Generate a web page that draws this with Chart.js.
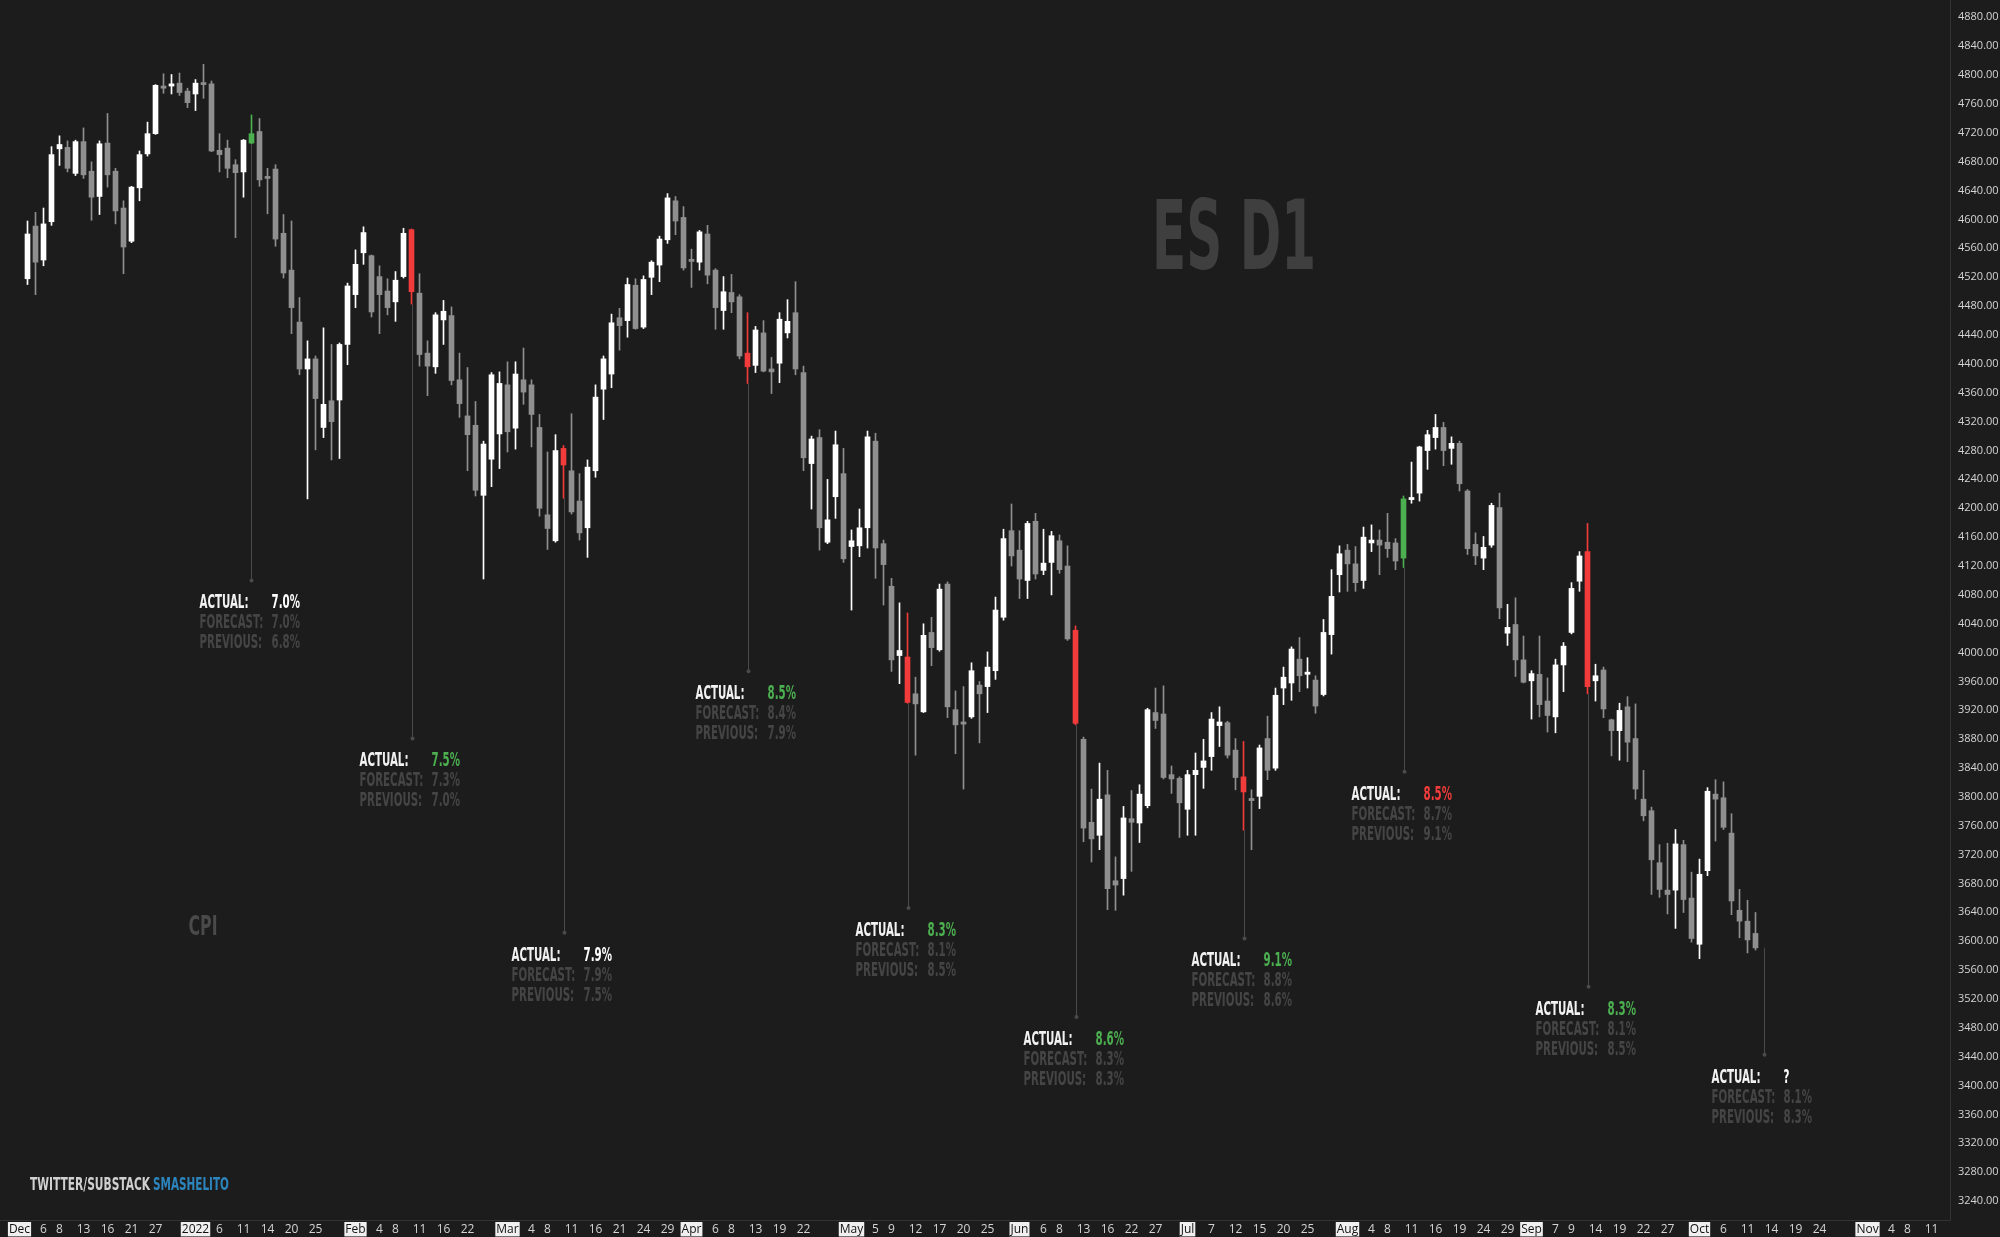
<!DOCTYPE html>
<html>
<head>
<meta charset="utf-8">
<title>ES D1 - CPI</title>
<script src="https://cdn.jsdelivr.net/npm/chart.js@4.4.1/dist/chart.umd.min.js"></script>
<style>
  html, body { margin: 0; padding: 0; background: #1c1c1c; }
  #wrap { width: 2000px; height: 1237px; }
</style>
</head>
<body>
<div id="wrap"><canvas id="esChart" width="2000" height="1237"></canvas></div>
<script>
'use strict';

// daily ES candles, first bar on this date, one entry per trading day
const firstDate = '2021-12-02';

const open = [
  4515, 4588, 4541, 4594, 4695, 4697, 4661, 4705, 4664, 4629, 4703, 4664, 4613, 4567, 4641, 4688, 4716, 4782, 4782, 4786,
  4775, 4771, 4786, 4785, 4693, 4696, 4673, 4663, 4703, 4719, 4656, 4667, 4578, 4527, 4455, 4390, 4404, 4309, 4346, 4347,
  4424, 4493, 4551, 4547, 4518, 4498, 4483, 4518, 4583, 4495, 4412, 4393, 4458, 4464, 4375, 4325, 4312, 4215, 4265, 4300,
  4368, 4308, 4375, 4368, 4309, 4188, 4152, 4280, 4249, 4207, 4170, 4249, 4362, 4383, 4461, 4457, 4506, 4448, 4517, 4534,
  4569, 4623, 4600, 4542, 4538, 4577, 4527, 4471, 4496, 4490, 4412, 4395, 4440, 4390, 4398, 4440, 4468, 4385, 4259, 4295,
  4150, 4213, 4245, 4144, 4145, 4170, 4290, 4148, 4089, 3993, 3991, 3940, 3915, 4025, 4001, 4092, 3918, 3901, 3908, 3952,
  3950, 3972, 4046, 4166, 4139, 4097, 4179, 4111, 4122, 4152, 4117, 4028, 3877, 3762, 3744, 3800, 3681, 3684, 3767, 3761,
  3785, 3914, 3912, 3828, 3823, 3780, 3828, 3838, 3853, 3896, 3900, 3862, 3825, 3795, 3798, 3878, 3837, 3948, 3955, 3988,
  3967, 3959, 3939, 4022, 4105, 4139, 4120, 4097, 4149, 4153, 4150, 4149, 4128, 4209, 4218, 4277, 4295, 4309, 4280, 4287,
  4221, 4147, 4128, 4146, 4198, 4024, 4036, 3987, 3958, 3967, 3930, 3908, 3980, 4025, 4096, 4137, 3958, 3973, 3904, 3889,
  3922, 3878, 3794, 3778, 3706, 3668, 3668, 3731, 3657, 3593, 3695, 3801, 3796, 3747, 3640, 3625, 3608
];
const high = [
  4595, 4607, 4613, 4698, 4713, 4706, 4707, 4724, 4677, 4706, 4744, 4668, 4623, 4643, 4692, 4732, 4784, 4799, 4798, 4800,
  4779, 4791, 4812, 4789, 4716, 4707, 4680, 4708, 4742, 4737, 4668, 4673, 4604, 4595, 4489, 4429, 4408, 4447, 4424, 4426,
  4509, 4555, 4587, 4548, 4533, 4515, 4525, 4585, 4584, 4522, 4429, 4468, 4485, 4476, 4412, 4392, 4345, 4290, 4385, 4386,
  4400, 4400, 4419, 4375, 4327, 4275, 4299, 4284, 4328, 4245, 4264, 4368, 4408, 4466, 4474, 4516, 4515, 4519, 4540, 4574,
  4633, 4629, 4615, 4556, 4582, 4589, 4529, 4518, 4521, 4493, 4468, 4449, 4457, 4406, 4468, 4486, 4511, 4394, 4297, 4306,
  4237, 4304, 4280, 4167, 4196, 4304, 4301, 4153, 4100, 4066, 4052, 3963, 4037, 4046, 4092, 4095, 3944, 3950, 3983, 3957,
  3998, 4074, 4168, 4203, 4166, 4179, 4190, 4168, 4165, 4160, 4145, 4034, 3880, 3808, 3844, 3834, 3714, 3784, 3806, 3814,
  3920, 3948, 3951, 3840, 3825, 3834, 3858, 3877, 3914, 3922, 3902, 3878, 3874, 3807, 3869, 3909, 3948, 3977, 4005, 4018,
  3990, 3965, 4043, 4112, 4145, 4147, 4144, 4171, 4174, 4167, 4190, 4155, 4214, 4261, 4283, 4305, 4327, 4316, 4296, 4290,
  4223, 4163, 4158, 4204, 4218, 4064, 4073, 4020, 3972, 4020, 3962, 3988, 4011, 4094, 4137, 4176, 3981, 3977, 3905, 3927,
  3936, 3926, 3834, 3783, 3731, 3733, 3752, 3737, 3693, 3711, 3810, 3821, 3818, 3774, 3669, 3654, 3637
];
const low = [
  4507, 4493, 4533, 4589, 4672, 4663, 4658, 4654, 4596, 4604, 4642, 4591, 4522, 4565, 4623, 4685, 4715, 4772, 4771, 4769,
  4752, 4748, 4765, 4691, 4663, 4655, 4572, 4628, 4702, 4643, 4605, 4560, 4516, 4439, 4382, 4210, 4278, 4295, 4264, 4266,
  4396, 4475, 4535, 4462, 4439, 4465, 4456, 4516, 4480, 4394, 4353, 4384, 4424, 4368, 4323, 4249, 4214, 4099, 4227, 4252,
  4275, 4279, 4341, 4282, 4186, 4140, 4150, 4211, 4189, 4153, 4129, 4240, 4320, 4364, 4416, 4434, 4445, 4446, 4493, 4511,
  4564, 4576, 4527, 4503, 4527, 4508, 4445, 4445, 4468, 4404, 4370, 4385, 4386, 4356, 4371, 4433, 4382, 4249, 4196, 4139,
  4148, 4183, 4122, 4056, 4130, 4142, 4100, 4063, 3971, 3954, 3927, 3855, 3914, 3979, 3999, 3907, 3857, 3808, 3906, 3872,
  3914, 3960, 4042, 4117, 4072, 4072, 4099, 4105, 4077, 4107, 4014, 3897, 3735, 3707, 3724, 3641, 3640, 3661, 3694, 3734,
  3782, 3892, 3822, 3802, 3741, 3744, 3744, 3809, 3834, 3867, 3851, 3807, 3751, 3724, 3781, 3821, 3834, 3925, 3931, 3943,
  3948, 3913, 3937, 3995, 4081, 4082, 4082, 4086, 4137, 4105, 4129, 4112, 4115, 4204, 4207, 4251, 4279, 4256, 4258, 4221,
  4133, 4119, 4112, 4143, 4044, 4007, 3964, 3955, 3905, 3908, 3887, 3886, 3943, 4023, 4082, 3940, 3930, 3907, 3854, 3848,
  3846, 3794, 3764, 3662, 3658, 3635, 3615, 3637, 3596, 3573, 3688, 3736, 3752, 3634, 3602, 3581, 3585
];
const close = [
  4577, 4538, 4591, 4687, 4701, 4668, 4705, 4659, 4628, 4702, 4659, 4609, 4559, 4642, 4687, 4716, 4783, 4779, 4785, 4773,
  4759, 4786, 4784, 4692, 4687, 4668, 4662, 4707, 4716, 4652, 4654, 4570, 4523, 4475, 4390, 4404, 4349, 4341, 4317, 4424,
  4505, 4535, 4579, 4469, 4493, 4475, 4513, 4578, 4497, 4410, 4394, 4465, 4470, 4374, 4342, 4299, 4222, 4286, 4382, 4370,
  4303, 4383, 4358, 4327, 4197, 4169, 4277, 4257, 4192, 4163, 4254, 4351, 4404, 4454, 4450, 4507, 4446, 4514, 4538, 4570,
  4627, 4595, 4530, 4539, 4580, 4520, 4475, 4497, 4483, 4408, 4393, 4444, 4387, 4386, 4459, 4456, 4390, 4267, 4293, 4170,
  4181, 4285, 4127, 4152, 4170, 4296, 4142, 4119, 3987, 4000, 3928, 3926, 4021, 4004, 4085, 3922, 3897, 3898, 3972, 3940,
  3977, 4056, 4155, 4131, 4099, 4176, 4106, 4121, 4159, 4112, 4016, 3899, 3754, 3739, 3794, 3670, 3675, 3768, 3762, 3801,
  3918, 3903, 3824, 3822, 3789, 3828, 3834, 3847, 3905, 3901, 3855, 3824, 3804, 3792, 3865, 3834, 3938, 3963, 4002, 3965,
  3970, 3923, 4025, 4075, 4134, 4120, 4094, 4157, 4153, 4146, 4141, 4124, 4210, 4212, 4282, 4299, 4309, 4277, 4287, 4231,
  4141, 4131, 4143, 4201, 4059, 4032, 3987, 3956, 3968, 3925, 3910, 3980, 4006, 4086, 4131, 3950, 3965, 3919, 3889, 3917,
  3873, 3808, 3771, 3710, 3669, 3662, 3732, 3655, 3601, 3690, 3805, 3794, 3755, 3653, 3625, 3599, 3588
];

// exchange holidays, no bar on these days
const holidays = [
  '2021-12-24', '2022-01-17', '2022-02-21', '2022-04-15', '2022-05-30',
  '2022-06-20', '2022-07-04', '2022-09-05', '2022-11-24'
];

const xTickDates = [
  '2021-12-01', '2021-12-06', '2021-12-08', '2021-12-13', '2021-12-16', '2021-12-21', '2021-12-27',
  '2022-01-03', '2022-01-06', '2022-01-11', '2022-01-14', '2022-01-20', '2022-01-25',
  '2022-02-01', '2022-02-04', '2022-02-08', '2022-02-11', '2022-02-16', '2022-02-22',
  '2022-03-01', '2022-03-04', '2022-03-08', '2022-03-11', '2022-03-16', '2022-03-21', '2022-03-24', '2022-03-29',
  '2022-04-01', '2022-04-06', '2022-04-08', '2022-04-13', '2022-04-19', '2022-04-22',
  '2022-05-02', '2022-05-05', '2022-05-09', '2022-05-12', '2022-05-17', '2022-05-20', '2022-05-25',
  '2022-06-01', '2022-06-06', '2022-06-08', '2022-06-13', '2022-06-16', '2022-06-22', '2022-06-27',
  '2022-07-01', '2022-07-07', '2022-07-12', '2022-07-15', '2022-07-20', '2022-07-25',
  '2022-08-01', '2022-08-04', '2022-08-08', '2022-08-11', '2022-08-16', '2022-08-19', '2022-08-24', '2022-08-29',
  '2022-09-01', '2022-09-07', '2022-09-09', '2022-09-14', '2022-09-19', '2022-09-22', '2022-09-27',
  '2022-10-03', '2022-10-06', '2022-10-11', '2022-10-14', '2022-10-19', '2022-10-24',
  '2022-11-01', '2022-11-04', '2022-11-08', '2022-11-11'
];
const monthTickLabels = {
  '2021-12-01': 'Dec', '2022-01-03': '2022', '2022-02-01': 'Feb', '2022-03-01': 'Mar',
  '2022-04-01': 'Apr', '2022-05-02': 'May', '2022-06-01': 'Jun', '2022-07-01': 'Jul',
  '2022-08-01': 'Aug', '2022-09-01': 'Sep', '2022-10-03': 'Oct', '2022-11-01': 'Nov'
};

const yTicks = [];
for (let v = 3240; v <= 4880; v += 40) yTicks.push(v);

// CPI releases
const cpiDates = [
  '2022-01-12', '2022-02-10', '2022-03-10', '2022-04-12', '2022-05-11',
  '2022-06-10', '2022-07-13', '2022-08-10', '2022-09-13', '2022-10-13'
];
const cpiActual = ['7.0%', '7.5%', '7.9%', '8.5%', '8.3%', '8.6%', '9.1%', '8.5%', '8.3%', '?'];
const cpiForecast = ['7.0%', '7.3%', '7.9%', '8.4%', '8.1%', '8.3%', '8.8%', '8.7%', '8.1%', '8.1%'];
const cpiPrevious = ['6.8%', '7.0%', '7.5%', '7.9%', '8.5%', '8.3%', '8.6%', '9.1%', '8.5%', '8.3%'];
// price level the label block sits at
const cpiLabelLevel = [4068, 3849, 3580, 3942, 3614, 3463, 3572, 3803, 3505, 3411];

const BG = '#1c1c1c';
const UP = '#ffffff';
const DOWN = '#8f8f8f';
const GREEN = '#4caf50';
const RED = '#f23b3b';
const AXIS_LINE = '#333333';
const AXIS_TEXT = '#d4d4d4';
const DIM_TEXT = '#454545';
const CONDENSED = "'Liberation Sans Narrow', 'DejaVu Sans Condensed', 'Roboto', sans-serif";

function buildCalendar(start, end) {
  const days = [];
  const d = new Date(start + 'T00:00:00Z');
  const stop = new Date(end + 'T00:00:00Z');
  while (d <= stop) {
    const iso = d.toISOString().slice(0, 10);
    const wd = d.getUTCDay();
    if (wd !== 0 && wd !== 6 && !holidays.includes(iso)) days.push(iso);
    d.setUTCDate(d.getUTCDate() + 1);
  }
  return days;
}

const calendar = buildCalendar('2021-12-01', '2022-11-30');
const dayIndex = (iso) => calendar.indexOf(iso);
const startIndex = dayIndex(firstDate);
const cpiIndex = cpiDates.map(dayIndex);

const candleColors = open.map((o, i) => {
  const up = close[i] >= o;
  if (cpiIndex.includes(startIndex + i)) return up ? GREEN : RED;
  return up ? UP : DOWN;
});

const bodies = open.map((o, i) => ({ x: startIndex + i, y: [o, close[i]] }));
const wicks = open.map((o, i) => ({ x: startIndex + i, y: [low[i], high[i]] }));

function actualColor(i) {
  const a = parseFloat(cpiActual[i]);
  const f = parseFloat(cpiForecast[i]);
  if (Number.isNaN(a) || a === f) return '#ffffff';
  return a > f ? GREEN : RED;
}

function fitSqueeze(ctx, text, sizePx, targetWidth) {
  ctx.save();
  ctx.font = `bold ${sizePx}px ${CONDENSED}`;
  const w = ctx.measureText(text).width;
  ctx.restore();
  return targetWidth / w;
}

// text on an alphabetic baseline, squeezed sideways to look like a condensed display face
function drawSqueezed(ctx, text, x, baseline, sizePx, color, squeeze, align) {
  ctx.save();
  ctx.font = `bold ${sizePx}px ${CONDENSED}`;
  ctx.fillStyle = color;
  ctx.textBaseline = 'alphabetic';
  ctx.textAlign = align || 'left';
  ctx.translate(x, baseline);
  ctx.scale(squeeze, 1);
  ctx.fillText(text, 0, 0);
  ctx.restore();
}

const backgroundPlugin = {
  id: 'background',
  beforeDraw(chart) {
    const { ctx, width, height } = chart;
    ctx.save();
    ctx.fillStyle = BG;
    ctx.fillRect(0, 0, width, height);
    ctx.restore();
  },
};

const annotationPlugin = {
  id: 'cpiNotes',
  beforeDatasetsDraw(chart) {
    const { ctx } = chart;
    const xScale = chart.scales.x;
    const yScale = chart.scales.y;

    // watermarks
    drawSqueezed(ctx, 'ES D1', 1234, 269, 97, '#3f3f3f', fitSqueeze(ctx, 'ES D1', 97, 164), 'center');
    drawSqueezed(ctx, 'CPI', 203, 935, 27, '#4a4a4a', fitSqueeze(ctx, 'CPI', 27, 29), 'center');

    // connector lines from the release bar down to its label
    ctx.save();
    ctx.strokeStyle = '#4a4a4a';
    ctx.fillStyle = '#4a4a4a';
    ctx.lineWidth = 1;
    cpiIndex.forEach((idx, i) => {
      const k = idx - startIndex;
      const fromPrice = k < low.length ? low[k] : close[close.length - 1];
      const x = Math.round(xScale.getPixelForValue(idx)) + 0.5;
      const yTop = yScale.getPixelForValue(fromPrice);
      const yEnd = yScale.getPixelForValue(cpiLabelLevel[i]) - 21;
      ctx.beginPath();
      ctx.moveTo(x, yTop);
      ctx.lineTo(x, yEnd);
      ctx.stroke();
      ctx.beginPath();
      ctx.arc(x, yEnd, 2, 0, Math.PI * 2);
      ctx.fill();
    });
    ctx.restore();
  },
  afterDatasetsDraw(chart) {
    const { ctx } = chart;
    const xScale = chart.scales.x;
    const yScale = chart.scales.y;
    const size = 20;
    const squeeze = fitSqueeze(ctx, 'ACTUAL:', size, 49);

    cpiIndex.forEach((idx, i) => {
      const left = xScale.getPixelForValue(idx) - 52;
      const valueX = left + 72;
      const base = yScale.getPixelForValue(cpiLabelLevel[i]) + 7;
      drawSqueezed(ctx, 'ACTUAL:', left, base, size, '#f2f2f2', squeeze);
      drawSqueezed(ctx, cpiActual[i], valueX, base, size, actualColor(i), squeeze);
      drawSqueezed(ctx, 'FORECAST:', left, base + 20, size, DIM_TEXT, squeeze);
      drawSqueezed(ctx, cpiForecast[i], valueX, base + 20, size, DIM_TEXT, squeeze);
      drawSqueezed(ctx, 'PREVIOUS:', left, base + 40, size, DIM_TEXT, squeeze);
      drawSqueezed(ctx, cpiPrevious[i], valueX, base + 40, size, DIM_TEXT, squeeze);
    });

    // signature
    drawSqueezed(ctx, 'TWITTER/SUBSTACK', 30, 1190, 18, '#d0d0d0', fitSqueeze(ctx, 'TWITTER/SUBSTACK', 18, 120));
    drawSqueezed(ctx, 'SMASHELITO', 153, 1190, 18, '#2d85bd', fitSqueeze(ctx, 'SMASHELITO', 18, 76));
  },
};

function isMonthTick(ctx) {
  return ctx.type === 'tick' && monthTickLabels[xTickDates[ctx.index]] !== undefined;
}

const canvas = document.getElementById('esChart');

new Chart(canvas, {
  type: 'bar',
  data: {
    datasets: [
      {
        label: 'body',
        data: bodies,
        backgroundColor: candleColors,
        barThickness: 5,
        minBarLength: 2,
        grouped: false,
        order: 0,
      },
      {
        label: 'wick',
        data: wicks,
        backgroundColor: candleColors,
        barThickness: 1,
        grouped: false,
        order: 1,
      },
    ],
  },
  options: {
    responsive: false,
    animation: false,
    events: [],
    layout: { padding: 0 },
    plugins: {
      legend: { display: false },
      tooltip: { enabled: false },
    },
    scales: {
      x: {
        type: 'linear',
        offset: false,
        min: -19.5 / 8,
        max: -19.5 / 8 + 1950 / 8,
        grid: { display: false, drawTicks: false, offset: false },
        border: { display: true, color: AXIS_LINE },
        afterBuildTicks(scale) {
          scale.ticks = xTickDates.map((d) => ({ value: dayIndex(d) }));
        },
        afterFit(scale) {
          scale.height = 17;
          scale.paddingLeft = 0;
          scale.paddingRight = 0;
        },
        ticks: {
          autoSkip: false,
          maxRotation: 0,
          padding: 2,
          font: { family: "'Open Sans', 'DejaVu Sans', sans-serif", size: 12 },
          color: (c) => (isMonthTick(c) ? '#111111' : AXIS_TEXT),
          showLabelBackdrop: (c) => isMonthTick(c),
          backdropColor: '#f0f0f0',
          backdropPadding: { left: 1, right: 1, top: 0, bottom: 0 },
          callback: (value, index) => {
            const d = xTickDates[index];
            return monthTickLabels[d] || String(Number(d.slice(8, 10)));
          },
        },
      },
      y: {
        position: 'right',
        min: 3211,
        max: 4901.2,
        grid: { display: false, drawTicks: false },
        border: { display: true, color: AXIS_LINE },
        afterBuildTicks(scale) {
          scale.ticks = yTicks.map((v) => ({ value: v }));
        },
        afterFit(scale) {
          scale.width = 50;
          scale.paddingTop = 0;
          scale.paddingBottom = 0;
        },
        ticks: {
          padding: 8,
          labelOffset: 2,
          font: { family: "'Open Sans', 'DejaVu Sans', sans-serif", size: 11 },
          color: AXIS_TEXT,
          callback: (value) => Number(value).toFixed(2),
        },
      },
    },
  },
  plugins: [backgroundPlugin, annotationPlugin],
});
</script>
</body>
</html>
